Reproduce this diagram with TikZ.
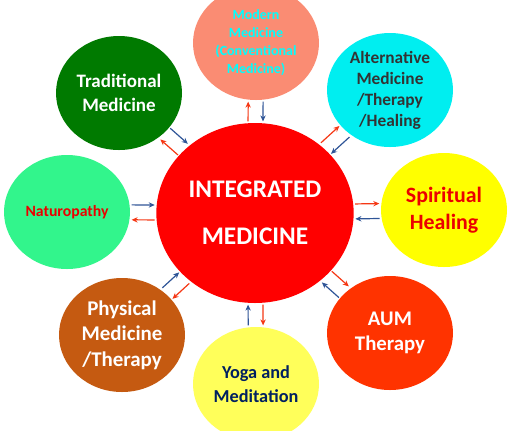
\documentclass[tikz,border=0pt]{standalone}
\usepackage{fontspec}
\setmainfont{Carlito}
\usetikzlibrary{positioning,arrows.meta,shapes.geometric}
\definecolor{hubred}{RGB}{255,0,0}
\definecolor{modfill}{RGB}{250,140,115}
\definecolor{modtext}{RGB}{0,255,255}
\definecolor{altfill}{RGB}{0,238,240}
\definecolor{trafill}{RGB}{0,122,0}
\definecolor{natfill}{RGB}{50,245,140}
\definecolor{spifill}{RGB}{255,255,0}
\definecolor{phyfill}{RGB}{197,90,17}
\definecolor{yogfill}{RGB}{255,255,90}
\definecolor{aumfill}{RGB}{255,51,0}
\definecolor{alttext}{RGB}{51,51,51}
\definecolor{redtext}{RGB}{235,0,0}
\definecolor{navytext}{RGB}{0,32,96}
\definecolor{arrred}{RGB}{245,55,20}
\definecolor{arrblue}{RGB}{47,85,151}
\tikzset{
  sat/.style={ellipse,minimum width=94.5pt,minimum height=85.5pt,
              inner sep=0pt,align=center},
  hub/.style={sat,minimum width=148pt,minimum height=135pt},
  outarr/.style={-{Stealth[length=4.5pt,width=4pt]},line width=0.9pt,arrred,
                 shorten <=1pt,shorten >=1pt},
  inarr/.style={outarr,arrblue},
}
\begin{document}
\begin{tikzpicture}[x=0.75pt,y=-0.75pt]
  \useasboundingbox (0,0) rectangle (512,430);
  % --- hub ---
  \node[hub,fill=hubred,text=white,font=\fontsize{19}{35}\selectfont\bfseries]
       (im) at (255,213) {INTEGRATED\\MEDICINE};
  % --- satellites ---
  \node[sat,fill=modfill,text=modtext,font=\fontsize{10.5}{13.5}\selectfont\bfseries]
       (mod) at (256,43) {Modern\\Medicine\\(Conventional\\Medicine)};
  \node[sat,fill=altfill,text=alttext,font=\fontsize{13}{15.75}\selectfont\bfseries]
       (alt) at (390,90) {Alternative\\Medicine\\/Therapy\\/Healing};
  \node[sat,fill=spifill,text=redtext,font=\fontsize{16.4}{20}\selectfont\bfseries]
       (spi) at (444,210) {Spiritual\\Healing};
  \node[sat,fill=aumfill,text=white,font=\fontsize{15.6}{19}\selectfont\bfseries]
       (aum) at (390,333) {AUM\\Therapy};
  \node[sat,fill=yogfill,text=navytext,font=\fontsize{13.7}{18}\selectfont\bfseries]
       (yog) at (256,384) {Yoga and\\Meditation};
  \node[sat,fill=phyfill,text=white,font=\fontsize{15.7}{19}\selectfont\bfseries]
       (phy) at (122,335) {Physical\\Medicine\\/Therapy};
  \node[sat,fill=natfill,text=redtext,font=\fontsize{11.8}{14}\selectfont\bfseries]
       (nat) at (67,212) {Naturopathy};
  \node[sat,fill=trafill,text=white,font=\fontsize{14.25}{18}\selectfont\bfseries]
       (tra) at (119,93) {Traditional\\Medicine};
  % --- arrow pairs: out (red) and in (blue) ---
  \foreach \n/\a in {mod/90,alt/42.3,spi/0.9,aum/-41.6,yog/-90,phy/222.5,nat/180,tra/138.6} {
    \draw[outarr,transform canvas={shift={(\a+90:5.6pt)}}] (im) -- (\n);
    \draw[inarr,transform canvas={shift={(\a-90:5.6pt)}}] (\n) -- (im);
  }
\end{tikzpicture}
\end{document}
